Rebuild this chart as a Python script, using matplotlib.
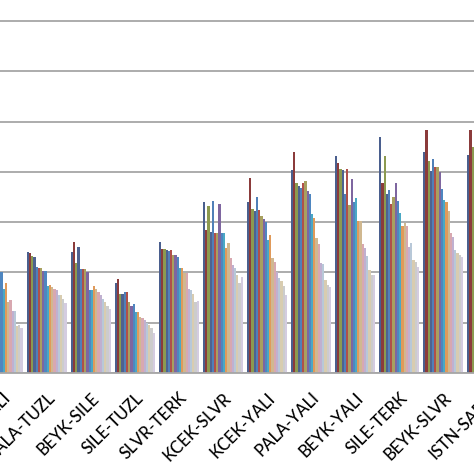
import matplotlib
matplotlib.use('Agg')
import matplotlib.pyplot as plt
import numpy as np

# route categories (first and last ones are cut off by the crop)
routes = ['TUZL-YALI', 'PALA-TUZL', 'BEYK-SILE', 'SILE-TUZL', 'SLVR-TERK',
          'KCEK-SLVR', 'KCEK-YALI', 'PALA-YALI', 'BEYK-YALI', 'SILE-TERK',
          'BEYK-SLVR', 'ISTN-SABH', 'SILE-SLVR']

# bar heights of the 18 series in every route
tuzl_yali = [22.0, 24.0, 21.0, 23.0, 22.0, 20.5, 21.0, 20.0, 20.1, 16.7,
             17.9, 14.2, 14.6, 12.3, 12.3, 9.3, 9.6, 9.0]
pala_tuzl = [24.1, 23.8, 23.3, 23.1, 21.1, 20.9, 20.8, 20.3, 20.3, 17.2,
             17.5, 17.0, 16.7, 16.5, 15.5, 15.5, 14.7, 14.0]
beyk_sile = [24.0, 26.1, 21.9, 25.1, 20.7, 20.7, 20.7, 20.1, 16.5, 16.5,
             17.2, 16.7, 16.2, 15.5, 14.8, 14.2, 13.3, 12.7]
sile_tuzl = [17.8, 18.6, 15.8, 15.8, 16.2, 16.2, 14.2, 13.3, 13.7, 12.2,
             12.2, 11.2, 10.9, 10.5, 9.9, 9.5, 8.9, 7.9]
slvr_terk = [26.1, 24.6, 24.6, 24.5, 24.3, 24.5, 23.5, 23.5, 23.1, 20.8,
             20.8, 19.8, 19.8, 16.8, 16.5, 15.8, 14.2, 14.4]
kcek_slvr = [33.9, 28.4, 33.2, 28.1, 34.1, 27.8, 27.8, 33.6, 27.8, 27.8,
             24.8, 25.8, 22.8, 21.5, 20.8, 19.5, 17.8, 19.1]
kcek_yali = [33.9, 38.8, 32.7, 32.3, 34.9, 32.4, 31.2, 30.6, 30.1, 26.4,
             27.4, 22.8, 22.1, 20.1, 18.8, 18.3, 17.2, 15.5]
pala_yali = [40.4, 43.9, 37.8, 37.2, 36.7, 37.7, 38.2, 36.2, 35.5, 31.7,
             30.9, 26.8, 25.6, 21.8, 21.7, 18.5, 17.5, 17.0]
beyk_yali = [43.1, 41.8, 40.5, 40.4, 35.6, 40.6, 33.4, 38.5, 33.9, 34.7,
             30.2, 30.2, 25.6, 24.8, 23.3, 20.5, 19.5, 19.5]
sile_terk = [47.0, 37.8, 43.1, 35.6, 36.4, 33.6, 35.0, 37.8, 34.2, 31.8,
             29.3, 29.9, 29.3, 25.0, 25.8, 22.5, 22.0, 21.0]
beyk_slvr = [43.9, 48.4, 42.1, 40.2, 42.5, 41.0, 40.9, 39.9, 36.6, 34.4,
             33.9, 32.3, 27.9, 27.1, 24.5, 23.8, 23.5, 23.0]
istn_sabh = [43.3, 48.4, 44.9, 41.0, 42.0, 40.0, 39.0, 38.0, 36.0, 34.0,
             33.0, 31.0, 28.0, 27.0, 25.0, 24.0, 23.0, 22.0]
sile_slvr = [40.0, 42.0, 38.0, 37.0, 36.0, 35.0, 34.0, 33.0, 31.0, 30.0,
             28.0, 27.0, 25.0, 24.0, 22.0, 21.0, 20.0, 19.0]

groups = [tuzl_yali, pala_tuzl, beyk_sile, sile_tuzl, slvr_terk, kcek_slvr,
          kcek_yali, pala_yali, beyk_yali, sile_terk, beyk_slvr, istn_sabh,
          sile_slvr]

colors = ['#4A5F8E', '#8B3B3B', '#8C9A50', '#4E6290', '#5080B8', '#B0504A',
          '#A8A060', '#7E66A0', '#4E86C0', '#4AA8C4', '#E09A5A', '#D0B890',
          '#D8A8B0', '#C0B0D0', '#B8C8D8', '#D8CCB0', '#CCCCCC', '#D4CCE0']

n_series = len(colors)
x = np.arange(len(routes))
group_w = 0.908
bar_w = group_w / n_series

fig = plt.figure(figsize=(4.74, 4.74), dpi=100)
# axes wider than the figure: the picture is a crop of a bigger chart
px_per_unit = 44.05
left_px = 2.65 - 0.55 * px_per_unit
width_px = 13.1 * px_per_unit
ax = fig.add_axes([left_px / 474, 101 / 474, width_px / 474, 373 / 474])

for i in range(n_series):
    vals = [g[i] for g in groups]
    ax.bar(x - group_w / 2 + (i + 0.5) * bar_w, vals, width=bar_w,
           color=colors[i], linewidth=0, zorder=2)

ax.set_xlim(-0.55, 12.55)
ax.set_ylim(0, 74.16)
ax.set_yticks(np.arange(0, 71, 10))
ax.yaxis.grid(True, color='#A6A6A6', linewidth=1.3, zorder=0)
ax.set_axisbelow(True)
for s in ['top', 'right', 'left']:
    ax.spines[s].set_visible(False)
ax.spines['bottom'].set_color('#A6A6A6')
ax.spines['bottom'].set_linewidth(1.3)
ax.tick_params(axis='y', left=False, labelleft=False)
ax.tick_params(axis='x', length=0, pad=12)
ax.set_xticks(x)
ax.set_xticklabels(routes, rotation=45, ha='right', rotation_mode='anchor',
                   fontsize=12, family='Lato', weight='medium', color='#000000')

fig.savefig('out.png', dpi=100)
